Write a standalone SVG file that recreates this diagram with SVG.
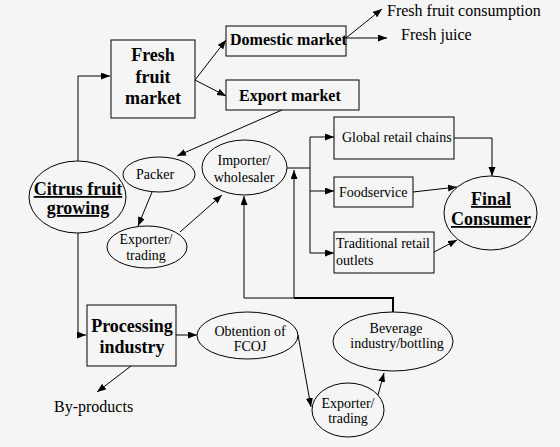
<svg xmlns="http://www.w3.org/2000/svg" width="560" height="447" viewBox="0 0 560 447">
<defs>
<style>
.box{fill:none;stroke:#000;stroke-width:1}
.ell{fill:none;stroke:#000;stroke-width:1}
.b{font-family:"Liberation Serif","Times New Roman",serif;font-weight:bold;font-size:18px;fill:#000}
.bm{font-family:"Liberation Serif","Times New Roman",serif;font-weight:bold;font-size:16px;fill:#000}
.r{font-family:"Liberation Serif","Times New Roman",serif;font-size:14px;fill:#000}
.rl{font-family:"Liberation Serif","Times New Roman",serif;font-size:16px;fill:#000}
.c{text-anchor:middle}
.u{text-decoration:underline}
.ln{fill:none;stroke:#000;stroke-width:1}
.ar{fill:none;stroke:#000;stroke-width:1;marker-end:url(#ah)}
</style>
<marker id="ah" markerUnits="userSpaceOnUse" markerWidth="10" markerHeight="8" refX="9" refY="3.5" orient="auto">
<path d="M0,0 L9,3.5 L0,7 z" fill="#000"/>
</marker>
</defs>
<rect width="560" height="447" fill="#f5f5f5"/>

<g id="connectors">
<polyline class="ar" points="78,161 78,76 110,76"/>
<polyline class="ar" points="78,233 78,335 86,335"/>
<line class="ar" x1="195" y1="80" x2="226" y2="40"/>
<line class="ar" x1="195" y1="80" x2="226" y2="96"/>
<line class="ar" x1="346" y1="38" x2="382" y2="9"/>
<line class="ar" x1="346" y1="38" x2="387" y2="38"/>
<line class="ar" x1="282" y1="110" x2="177" y2="156"/>
<line class="ar" x1="152" y1="192" x2="138" y2="226"/>
<line class="ar" x1="180" y1="232" x2="222" y2="195"/>
<line class="ln" x1="287" y1="168" x2="310" y2="168"/>
<line class="ln" x1="310" y1="137" x2="310" y2="253"/>
<line class="ar" x1="310" y1="137" x2="334" y2="137"/>
<line class="ar" x1="310" y1="191" x2="334" y2="191"/>
<line class="ar" x1="310" y1="253" x2="334" y2="253"/>
<polyline class="ar" points="454,138 492,138 492,176"/>
<line class="ar" x1="413" y1="192" x2="457" y2="187"/>
<line class="ar" x1="434" y1="252" x2="457" y2="240"/>
<line class="ar" x1="176" y1="335" x2="197" y2="335"/>
<line class="ar" x1="131" y1="366" x2="97" y2="392"/>
<line class="ar" x1="298" y1="335" x2="311" y2="407"/>
<line class="ar" x1="378" y1="395" x2="384" y2="373"/>
<polyline class="ln" points="393,312 393,298 294,298" style="stroke-width:2"/>
<polyline class="ar" points="294,298 244,298 244,196"/>
<line class="ar" x1="294" y1="298" x2="294" y2="170"/>
</g>

<g id="citrus">
<ellipse class="ell" cx="77.5" cy="197" rx="48.5" ry="36"/>
<text class="b c u" x="78" y="195">Citrus fruit</text>
<text class="b c u" x="78" y="214">growing</text>
</g>

<g id="fresh-fruit-market">
<rect class="box" x="111" y="40" width="84" height="78"/>
<text class="b c" x="153" y="61">Fresh</text>
<text class="b c" x="153" y="83">fruit</text>
<text class="b c" x="153" y="104">market</text>
</g>

<g id="domestic-market">
<rect class="box" x="226" y="26" width="120" height="30"/>
<text class="bm" x="230" y="45">Domestic market</text>
</g>

<g id="export-market">
<rect class="box" x="226" y="80" width="133" height="30"/>
<text class="bm" x="239" y="101">Export market</text>
</g>

<g id="fresh-fruit-consumption">
<text class="rl" x="387" y="16">Fresh fruit consumption</text>
</g>

<g id="fresh-juice">
<text class="rl" x="401" y="40">Fresh juice</text>
</g>

<g id="packer">
<ellipse class="ell" cx="159" cy="174.5" rx="36" ry="17.5"/>
<text class="r c" x="155" y="179">Packer</text>
</g>

<g id="exporter-trading-1">
<ellipse class="ell" cx="147" cy="247" rx="40" ry="21"/>
<text class="r c" x="146" y="244">Exporter/</text>
<text class="r c" x="146" y="260">trading</text>
</g>

<g id="importer">
<ellipse class="ell" cx="244.5" cy="167.5" rx="42.5" ry="27.5"/>
<text class="r c" x="244" y="165">Importer/</text>
<text class="r c" x="244" y="182">wholesaler</text>
</g>

<g id="global-retail">
<rect class="box" x="334" y="117" width="120" height="42"/>
<text class="r" x="342" y="142">Global retail chains</text>
</g>

<g id="foodservice">
<rect class="box" x="334" y="177" width="79" height="30"/>
<text class="r" x="339" y="197">Foodservice</text>
</g>

<g id="traditional-retail">
<rect class="box" x="334" y="232" width="100" height="41"/>
<text class="r" x="336" y="248">Traditional retail</text>
<text class="r" x="336" y="265">outlets</text>
</g>

<g id="final-consumer">
<ellipse class="ell" cx="490.5" cy="213" rx="46.5" ry="37"/>
<text class="b c u" x="491" y="205">Final</text>
<text class="b c u" x="491" y="225">Consumer</text>
</g>

<g id="processing-industry">
<rect class="box" x="87" y="305" width="89" height="61"/>
<text class="b c" x="132" y="332">Processing</text>
<text class="b c" x="132" y="353">industry</text>
</g>

<g id="by-products">
<text class="rl" x="54" y="412">By-products</text>
</g>

<g id="obtention-fcoj">
<ellipse class="ell" cx="247.5" cy="335.5" rx="50.5" ry="23.5"/>
<text class="r c" x="250" y="336">Obtention of</text>
<text class="r c" x="250" y="351">FCOJ</text>
</g>

<g id="exporter-trading-2">
<ellipse class="ell" cx="348" cy="410" rx="36" ry="27"/>
<text class="r c" x="348" y="408">Exporter/</text>
<text class="r c" x="348" y="423">trading</text>
</g>

<g id="beverage">
<ellipse class="ell" cx="393" cy="341.5" rx="60" ry="29.5"/>
<text class="r c" x="396" y="333">Beverage</text>
<text class="r c" x="397" y="348">industry/bottling</text>
</g>
</svg>
